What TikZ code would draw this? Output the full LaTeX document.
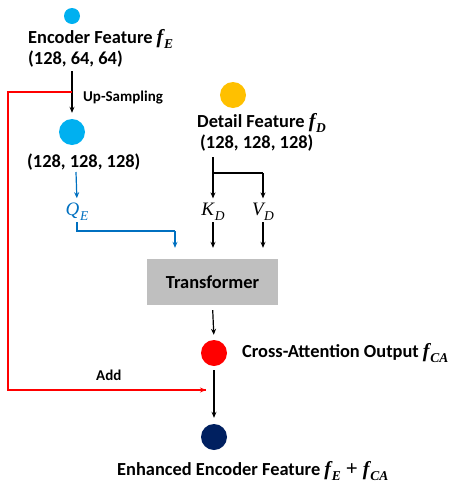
\documentclass[tikz,border=0pt]{standalone}
\usepackage{fontspec}
\setmainfont{Carlito}
\newfontfamily\mfont{Liberation Serif}
\newcommand{\bmv}[2]{{\mfont\bfseries\itshape\fontsize{20}{20}\selectfont #1\kern0.8pt\raisebox{-0.26em}{\fontsize{13.5}{13.5}\selectfont #2}}}
\newcommand{\imv}[2]{{\mfont\itshape #1\kern0.6pt\raisebox{-0.28em}{\fontsize{13.5}{13.5}\selectfont #2}}}
\newcommand{\plusop}{{\mfont\fontsize{21}{21}\selectfont\kern5pt+\kern5pt}}
\usetikzlibrary{arrows.meta}
\definecolor{cyanE}{HTML}{00B0F0}
\definecolor{blueQ}{HTML}{0070C0}
\definecolor{goldD}{HTML}{FFC000}
\definecolor{navyF}{HTML}{002060}
\definecolor{grayT}{HTML}{BFBFBF}
\definecolor{redA}{HTML}{FF0000}
\begin{document}
\begin{tikzpicture}[x=1pt,y=-1pt,
  dot/.style={circle,inner sep=0pt,minimum size=#1},
  lbl/.style={font=\fontsize{18.4}{20}\selectfont\bfseries,inner sep=0pt,anchor=base west},
  smalllbl/.style={font=\fontsize{15}{17}\selectfont\bfseries,inner sep=0pt,anchor=base west},
  mathlbl/.style={font=\fontsize{19}{20}\selectfont,inner sep=0pt,anchor=base},
  conn/.style={line width=1.2pt,-{Stealth[length=6pt,width=5pt]}},
  plain/.style={line width=1.2pt}]
\useasboundingbox (0,0) rectangle (458,496);

% circles
\node[dot=16pt,fill=cyanE] (enc) at (72,16) {};
\node[dot=26pt,fill=cyanE] (up) at (72,132) {};
\node[dot=26pt,fill=goldD] (det) at (233,95) {};
\node[dot=26pt,fill=redA] (ca) at (214,353) {};
\node[dot=26pt,fill=navyF] (enh) at (214,437) {};

% labels
\node[lbl] (encname) at (28,43) {Encoder Feature \bmv{f}{E}};
\node[lbl] (encdims) at (28,64) {(128, 64, 64)};
\node[smalllbl] (uplbl) at (83,101) {Up-Sampling};
\node[lbl] (updims) at (27,167) {(128, 128, 128)};
\node[lbl] (detname) at (197,127) {Detail Feature \bmv{f}{D}};
\node[lbl] (detdims) at (200,148) {(128, 128, 128)};
\node[mathlbl,text=blueQ] (qe) at (77,215) {\imv{Q}{E}};
\node[mathlbl] (kd) at (213,215) {\imv{K}{D}};
\node[mathlbl] (vd) at (263,215) {\imv{V}{D}};
\node[fill=grayT,minimum width=131pt,minimum height=46pt,inner sep=0pt,
      font=\fontsize{18.4}{20}\selectfont\bfseries] (tr) at (212.5,282) {Transformer};
\node[lbl] (calbl) at (242,357) {Cross-Attention Output \bmv{f}{CA}};
\node[lbl] (enhlbl) at (117,475) {Enhanced Encoder Feature \bmv{f}{E}\plusop\bmv{f}{CA}};
\node[smalllbl] (addlbl) at (96,380) {Add};

% coordinates
\coordinate (split) at (72,92);
\coordinate (rc) at (8,92);
\coordinate (addpt) at (206,390);
\coordinate (qin) at (175,231);
\coordinate (br) at (213,173);
\coordinate (brv) at (263,173);
\coordinate (encbot) at (72,71);
\coordinate (upbot) at (76,172);
\coordinate (qebot) at (77,222);
\coordinate (detbot) at (213,157);
\coordinate (kdbot) at (213,222);
\coordinate (vdbot) at (263,222);

% connectors
\draw[conn,shorten >=6pt] (encbot) -- (up.north);
\draw[plain,redA] (split) -- (rc) |- (addpt);
\draw[conn,redA] (rc |- addpt) -- (addpt);
\draw[conn,blueQ,shorten >=4pt] (upbot) -- (qe.north);
\draw[plain,blueQ] (qebot) |- (qin);
\draw[conn,blueQ,shorten >=11pt] (qin) -- (qin |- tr.north);
\draw[plain] (detbot) -- (br) -- (brv);
\draw[conn,shorten >=4pt] (br) -- (kd.north);
\draw[conn,shorten >=4pt] (brv) -- (vd.north);
\draw[conn,shorten >=11pt] (kdbot) -- (kdbot |- tr.north);
\draw[conn,shorten >=11pt] (vdbot) -- (vdbot |- tr.north);
\draw[conn,shorten <=5pt,shorten >=5pt] (tr.south) -- (ca.north);
\draw[conn,shorten <=4pt,shorten >=6pt] (ca.south) -- (enh.north);
\end{tikzpicture}
\end{document}
